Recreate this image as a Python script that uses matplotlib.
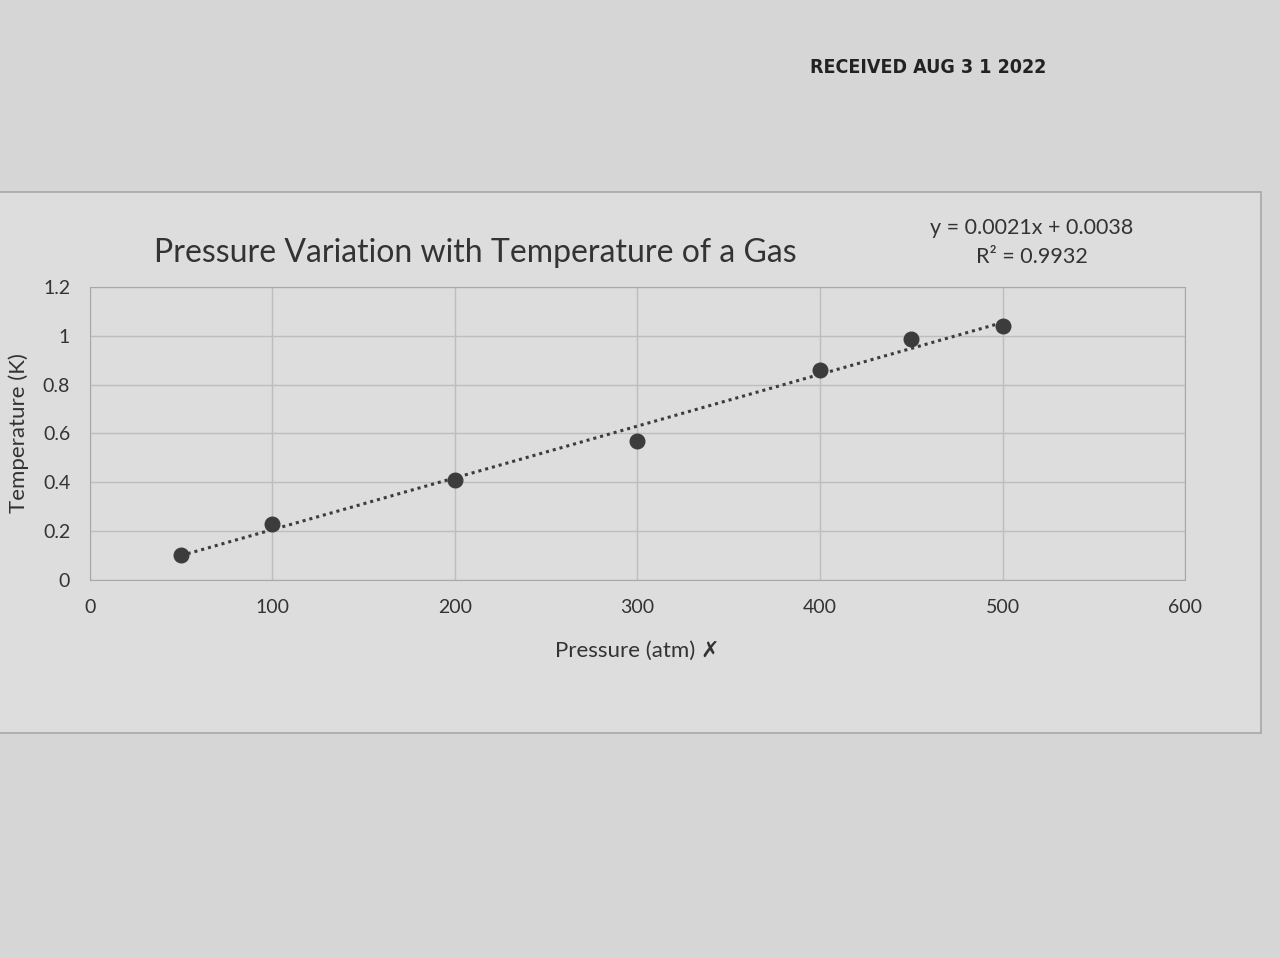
import numpy as np
import matplotlib.pyplot as plt
from matplotlib.patches import Rectangle

plt.rcParams['font.family'] = ['Lato', 'DejaVu Sans']

# data
pressure = [50, 100, 200, 300, 400, 450, 500]
temperature = [0.10, 0.23, 0.41, 0.57, 0.86, 0.99, 1.04]
x_ticks = [0, 100, 200, 300, 400, 500, 600]
y_ticks = [0, 0.2, 0.4, 0.6, 0.8, 1.0, 1.2]
y_tick_labels = ['0', '0.2', '0.4', '0.6', '0.8', '1', '1.2']

paper = '#d6d6d6'
sheet = '#dddddd'
ink = '#3c3c3c'
grid_col = '#bdbdbd'

fig = plt.figure(figsize=(12.8, 9.58), dpi=100, facecolor=paper)

# the printed chart box on the page
fig.patches.append(Rectangle((-0.01, 0.235), 0.995, 0.565, transform=fig.transFigure,
                             facecolor=sheet, edgecolor='#a8a8a8', lw=1.2, zorder=-10))

ax = fig.add_axes([0.07, 0.395, 0.856, 0.305])
ax.set_zorder(2)
ax.set_facecolor(sheet)

# linear trendline
coef = np.polyfit(pressure, temperature, 1)
xs = np.array([min(pressure), max(pressure)])
ax.plot(xs, np.polyval(coef, xs), linestyle=(0, (1, 1.3)), color=ink, lw=2.2, zorder=2)
ax.plot(pressure, temperature, 'o', color=ink, markersize=10.5, zorder=3)

ax.set_xlim(0, 600)
ax.set_ylim(0, 1.2)
ax.set_xticks(x_ticks)
ax.set_yticks(y_ticks, y_tick_labels)
ax.grid(True, color=grid_col, lw=1)
ax.set_axisbelow(True)
for s in ax.spines.values():
    s.set_color('#a8a8a8')
ax.tick_params(length=0, labelsize=14, colors='#333333', pad=14)

ax.set_xlabel('Pressure (atm) ✗', fontsize=16, color='#333333', labelpad=18)
ax.set_ylabel('Temperature (K)', fontsize=16, color='#333333', labelpad=10)

fig.text(0.12, 0.736, 'Pressure Variation with Temperature of a Gas',
         fontsize=23, color='#333333', va='center')
fig.text(0.806, 0.762, 'y = 0.0021x + 0.0038', fontsize=15.5, color='#333333',
         ha='center', va='center')
fig.text(0.806, 0.732, 'R² = 0.9932', fontsize=15.5, color='#333333',
         ha='center', va='center')

fig.text(0.633, 0.93, 'RECEIVED AUG 3 1 2022', fontsize=14, color='#222222',
         family='DejaVu Sans', stretch='condensed', weight='bold', va='center')

fig.savefig('out.png', dpi=100, facecolor=paper)
